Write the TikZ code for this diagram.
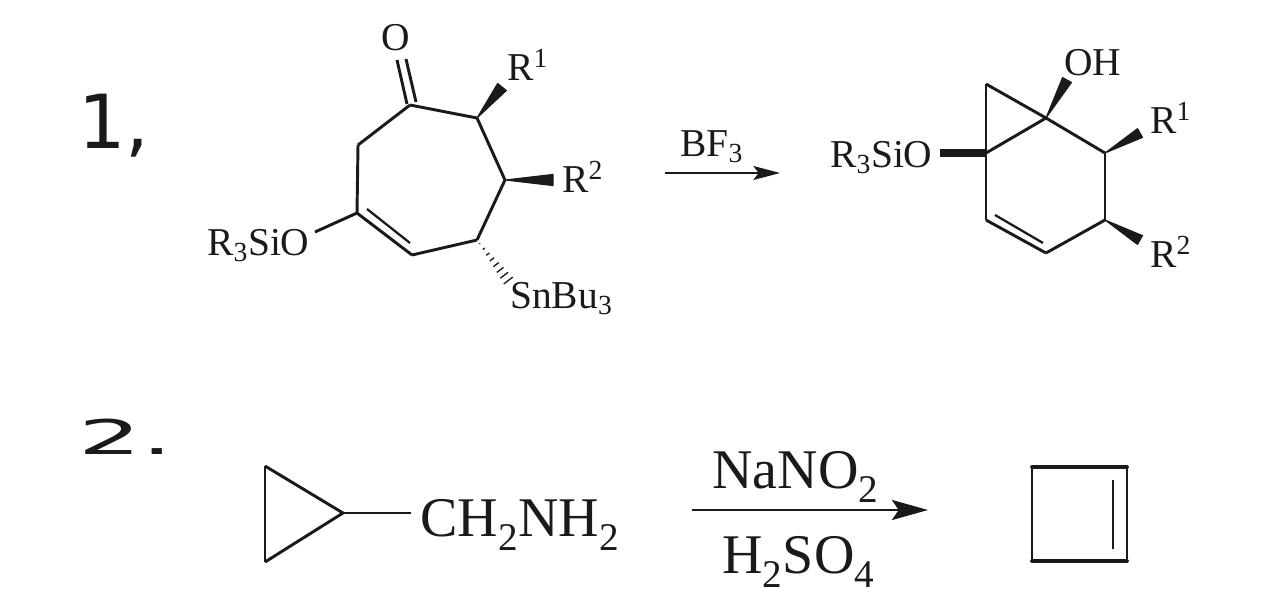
\documentclass[tikz,border=0pt]{standalone}
\usepackage{fontspec}
\setmainfont{Liberation Serif}
\newfontfamily\handfont{DejaVu Sans}
\usetikzlibrary{arrows.meta,calc,positioning}
\definecolor{ink}{HTML}{1A1A1A}
\newcommand{\sub}[1]{\textsubscript{#1}}
\newcommand{\supr}[1]{\textsuperscript{#1}}

\begin{document}
\begin{tikzpicture}
[x=.75pt,y=-.75pt,ink,line join=round,
  bond/.style={line width=2.2pt},
  thin bond/.style={line width=1.7pt},
  wedge/.style={fill=ink,draw=ink,line width=.8pt},
  atom node/.style={anchor=base west,inner sep=0pt,font=\fontsize{29.6}{31}\selectfont},
  big node/.style={anchor=base west,inner sep=0pt,font=\fontsize{42}{44}\selectfont},
  hand node/.style={anchor=base west,inner sep=0pt,font=\handfont\fontsize{56}{58}\selectfont}]

  \useasboundingbox (0,0) rectangle (1271,611);

  % handwritten numbers
  \node [hand node] (one) at (78,148) {1,};
  \node [hand node,xscale=1.33,yscale=.64] (two) at (78,454) {2.};

  % first ketone, seven ring
  \coordinate (ketone) at (410,105);
  \coordinate (cone) at (477,118);
  \coordinate (ctwo) at (505,180);
  \coordinate (cthree) at (477,240);
  \coordinate (vinyl) at (412,255);
  \coordinate (enol) at (357,213);
  \coordinate (methylene) at (358,145);

  \node [atom node] (oxo) at (381,50) {O};
  \node [atom node] (rone) at (507,80) {R\supr{1}};
  \node [atom node] (rtwo) at (562,192) {R\supr{2}};
  \node [atom node] (stannyl) at (510,308) {SnBu\sub{3}};
  \node [atom node] (silyl) at (207,255) {R\sub{3}SiO};

  \coordinate (oa) at (397,60);
  \coordinate (ob) at (406,59);
  \coordinate (ka) at (407,104);
  \coordinate (kb) at (416,102);
  \coordinate (ena) at (367,209);
  \coordinate (enb) at (410,243);
  \coordinate (silend) at (315,232);
  \coordinate (roneend) at (502,87);
  \coordinate (rtwoend) at (553,180);
  \coordinate (snend) at (511,284);

  \foreach \from/\to in {ketone/cone,cone/ctwo,ctwo/cthree,cthree/vinyl,vinyl/enol,enol/methylene,methylene/ketone,enol/silend,oa/ka,ob/kb}
    \draw [bond] (\from) -- (\to);
  \draw [thin bond] (ena) -- (enb);

  \foreach \from/\to in {cone/roneend,ctwo/rtwoend}
    \fill [wedge] (\from) -- ($(\to)!4.2pt!90:(\from)$) -- ($(\to)!4.2pt!-90:(\from)$) -- cycle;

  \foreach \t [evaluate=\t as \l using \t*4.6] in {.08,.2,.32,.44,.56,.68,.8,.92}
    \draw [line width=1pt] ($(cthree)!\t!(snend)!\l pt!90:(snend)$) -- ($(cthree)!\t!(snend)!\l pt!-90:(snend)$);

  % first arrow
  \coordinate (arrowa) at (665,173);
  \coordinate (arrowb) at (780,173);
  \draw [line width=1.3pt,-{Stealth[length=20pt,width=10.5pt,inset=4pt]}] (arrowa) -- (arrowb);
  \node [atom node] (boron) at (680,156) {BF\sub{3}};

  % bicyclic product
  \coordinate (bridgea) at (1046,118);
  \coordinate (apex) at (986,84);
  \coordinate (bridgeb) at (986,153);
  \coordinate (alkenea) at (986,220);
  \coordinate (alkeneb) at (1046,253);
  \coordinate (ptwo) at (1105,220);
  \coordinate (pone) at (1105,153);

  \node [atom node] (hydroxy) at (1064,75) {OH};
  \node [atom node] (prone) at (1150,133) {R\supr{1}};
  \node [atom node] (prtwo) at (1150,267) {R\supr{2}};
  \node [atom node] (psilyl) at (830,167) {R\sub{3}SiO};

  \coordinate (ohend) at (1067,80);
  \coordinate (proneend) at (1140,133);
  \coordinate (prtwoend) at (1140,240);
  \coordinate (psilend) at (940,153);
  \coordinate (ina) at (995,215);
  \coordinate (inb) at (1043,243);

  \foreach \from/\to in {bridgea/apex,apex/bridgeb,bridgeb/bridgea,bridgeb/alkenea,alkenea/alkeneb,alkeneb/ptwo,ptwo/pone,pone/bridgea}
    \draw [bond] (\from) -- (\to);
  \draw [thin bond] (ina) -- (inb);

  \foreach \from/\to in {bridgea/ohend,pone/proneend,ptwo/prtwoend}
    \fill [wedge] (\from) -- ($(\to)!3.8pt!90:(\from)$) -- ($(\to)!3.8pt!-90:(\from)$) -- cycle;
  \draw [line width=6pt] (bridgeb) -- (psilend);

  % second reaction
  \coordinate (triup) at (265,466);
  \coordinate (tridown) at (265,562);
  \coordinate (tritip) at (343,513);
  \node [big node] (amine) at (420,536) {CH\sub{2}NH\sub{2}};

  \foreach \from/\to in {triup/tridown,tridown/tritip,tritip/triup}
    \draw [bond] (\from) -- (\to);
  \draw [bond,shorten >=7pt] (tritip) -- (tritip -| amine.west);

  \coordinate (arrowc) at (692,510);
  \coordinate (arrowd) at (928,510);
  \draw [line width=2pt,-{Stealth[length=27pt,width=15pt,inset=5pt]}] (arrowc) -- (arrowd);
  \node [big node] (nitrite) at (712,488) {NaNO\sub{2}};
  \node [big node] (acid) at (722,573) {H\sub{2}SO\sub{4}};

  % cyclobutene
  \coordinate (sqa) at (1032,467);
  \coordinate (sqb) at (1127,467);
  \coordinate (sqc) at (1127,561);
  \coordinate (sqd) at (1032,561);
  \coordinate (inc) at (1113,480);
  \coordinate (ind) at (1113,549);

  \foreach \from/\to in {sqb/sqc,sqd/sqa}
    \draw [bond,line cap=round] (\from) -- (\to);
  \foreach \from/\to in {sqa/sqb,sqc/sqd}
    \draw [line width=2.8pt,line cap=round] (\from) -- (\to);
  \draw [thin bond] (inc) -- (ind);

\end{tikzpicture}
\end{document}
